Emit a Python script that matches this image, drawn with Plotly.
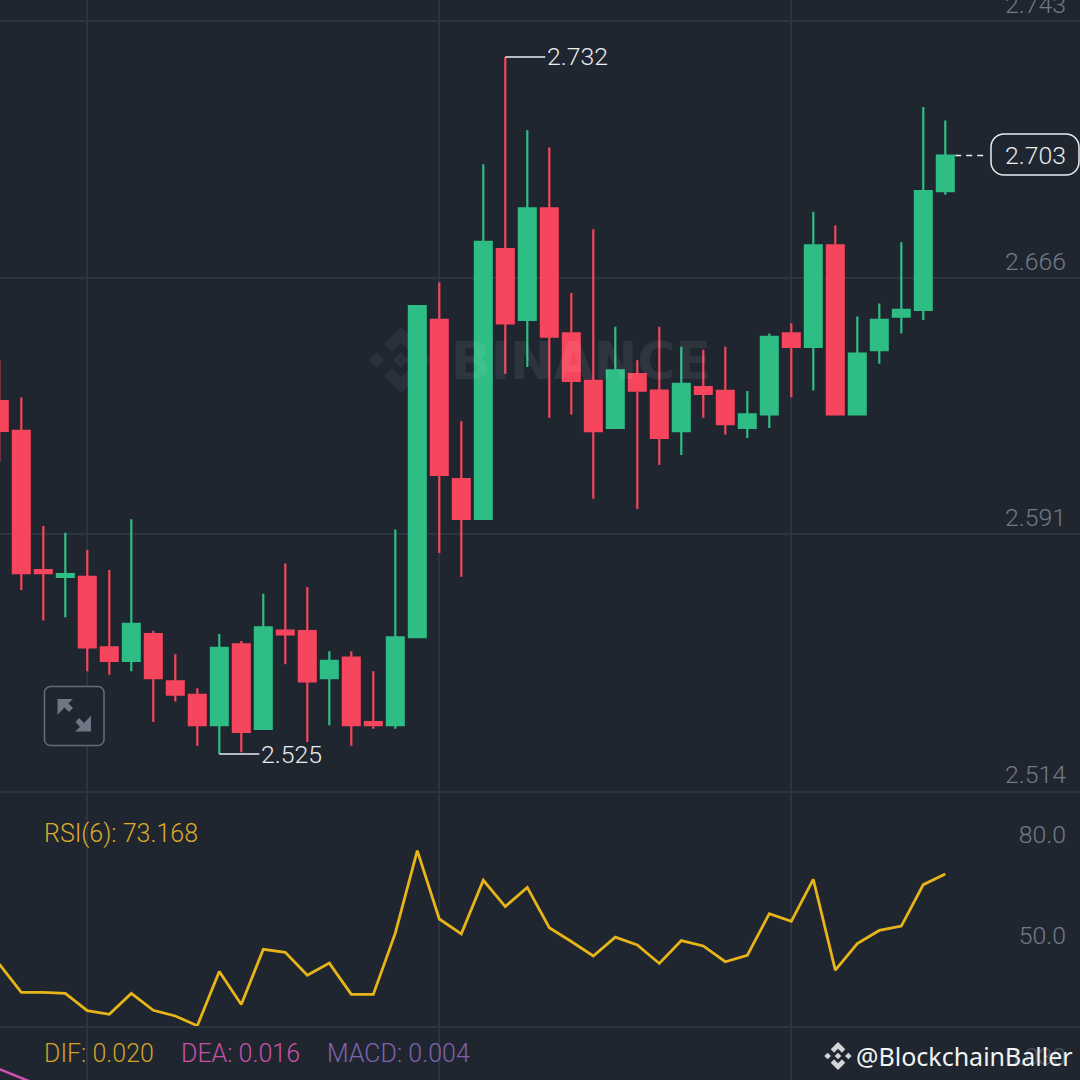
import plotly.graph_objects as go
from plotly.subplots import make_subplots

# candles (price pane)
opens = [2.6300, 2.6211, 2.5797, 2.5777, 2.5777, 2.5567, 2.5527, 2.5607, 2.5466, 2.5426, 2.5336,
         2.5576, 2.5325, 2.5617, 2.5616, 2.5476, 2.5537, 2.5345, 2.5336, 2.5598, 2.6541, 2.6068,
         2.5949, 2.6752, 2.6541, 2.6873, 2.6501, 2.6360, 2.6220, 2.6380, 2.6331, 2.6210, 2.6341,
         2.6330, 2.6220, 2.6260, 2.6501, 2.6461, 2.6763, 2.6260, 2.6451, 2.6551, 2.6571, 2.6924]
highs = [2.6422, 2.6310, 2.5928, 2.5908, 2.5857, 2.5797, 2.5948, 2.5617, 2.5547, 2.5446, 2.5607,
         2.5586, 2.5727, 2.5817, 2.5747, 2.5556, 2.5556, 2.5496, 2.5918, 2.6582, 2.6652, 2.6240,
         2.7004, 2.7323, 2.7105, 2.7054, 2.6621, 2.6811, 2.6521, 2.6421, 2.6521, 2.6461, 2.6452,
         2.6461, 2.6330, 2.6501, 2.6531, 2.6863, 2.6822, 2.6551, 2.6590, 2.6772, 2.7174, 2.7134]
lows = [2.6119, 2.5738, 2.5647, 2.5657, 2.5496, 2.5486, 2.5496, 2.5345, 2.5406, 2.5275, 2.5250,
        2.5255, 2.5325, 2.5517, 2.5286, 2.5336, 2.5275, 2.5325, 2.5325, 2.5598, 2.5848, 2.5777,
        2.5949, 2.6381, 2.6401, 2.6250, 2.6260, 2.6009, 2.6220, 2.5979, 2.6110, 2.6139, 2.6250,
        2.6200, 2.6190, 2.6220, 2.6311, 2.6331, 2.6260, 2.6260, 2.6411, 2.6501, 2.6541, 2.6913]
closes = [2.6211, 2.5788, 2.5788, 2.5785, 2.5567, 2.5527, 2.5637, 2.5476, 2.5427, 2.5336, 2.5566,
          2.5316, 2.5627, 2.5606, 2.5466, 2.5527, 2.5336, 2.5336, 2.5597, 2.6582, 2.6080, 2.5949,
          2.6773, 2.6531, 2.6873, 2.6491, 2.6360, 2.6210, 2.6391, 2.6331, 2.6190, 2.6351, 2.6321,
          2.6231, 2.6260, 2.6491, 2.6461, 2.6763, 2.6260, 2.6441, 2.6541, 2.6571, 2.6924, 2.7030]
bars = list(range(len(opens)))

rsi = [46.4, 38.0, 38.0, 37.7, 32.6, 31.5, 37.7, 32.7, 31.0, 28.1, 44.2, 34.4, 50.8, 49.9, 43.1,
       46.7, 37.4, 37.4, 55.6, 80.1, 59.8, 55.4, 71.3, 63.5, 69.2, 57.2, 53.1, 48.8, 54.4, 52.1,
       46.6, 53.4, 51.8, 47.1, 49.0, 61.4, 59.1, 71.6, 44.6, 52.5, 56.4, 57.7, 70.0, 73.168]
# only the start of the DEA line is inside the crop
dea = [0.0320, 0.0276, 0.0230]

price_ticks = [2.7430, 2.6666, 2.5904, 2.5140]
price_labels = ["2.743", "2.666", "2.591", "2.514"]
rsi_ticks = [80, 50]
rsi_labels = ["80.0", "50.0"]
macd_ticks = [0.030]
macd_labels = ["0.030"]
grid_bars = [4, 20, 36]

BG = "#1f2630"
GRID = "#2d3440"
GREEN = "#2ebd85"
RED = "#f6465d"
MUTED = "#737a87"
LIGHT = "#eaecef"
YELLOW = "#e8b518"
FONT = "Roboto"


def px(x):
    return x / 1080


def py(y):
    return 1 - y / 1080


def poly(points):
    return "M " + " L ".join(f"{px(x):.5f},{py(y):.5f}" for x, y in points) + " Z"


def rounded(x0, y0, x1, y1, r):
    c = 0.45 * r
    p = [f"M {px(x0 + r):.5f},{py(y0):.5f}", f"L {px(x1 - r):.5f},{py(y0):.5f}",
         f"C {px(x1 - c):.5f},{py(y0):.5f} {px(x1):.5f},{py(y0 + c):.5f} {px(x1):.5f},{py(y0 + r):.5f}",
         f"L {px(x1):.5f},{py(y1 - r):.5f}",
         f"C {px(x1):.5f},{py(y1 - c):.5f} {px(x1 - c):.5f},{py(y1):.5f} {px(x1 - r):.5f},{py(y1):.5f}",
         f"L {px(x0 + r):.5f},{py(y1):.5f}",
         f"C {px(x0 + c):.5f},{py(y1):.5f} {px(x0):.5f},{py(y1 - c):.5f} {px(x0):.5f},{py(y1 - r):.5f}",
         f"L {px(x0):.5f},{py(y0 + r):.5f}",
         f"C {px(x0):.5f},{py(y0 + c):.5f} {px(x0 + c):.5f},{py(y0):.5f} {px(x0 + r):.5f},{py(y0):.5f} Z"]
    return " ".join(p)


def logo(cx, cy, r, color, layer):
    # four chevrons/diamonds of the exchange mark
    parts = [
        [(0, -1), (0.52, -0.48), (0.28, -0.24), (0, -0.52), (-0.28, -0.24), (-0.52, -0.48)],
        [(0, 1), (0.52, 0.48), (0.28, 0.24), (0, 0.52), (-0.28, 0.24), (-0.52, 0.48)],
        [(-0.24, 0), (0, -0.24), (0.24, 0), (0, 0.24)],
        [(-0.98, 0), (-0.74, -0.24), (-0.5, 0), (-0.74, 0.24)],
        [(0.98, 0), (0.74, -0.24), (0.5, 0), (0.74, 0.24)],
    ]
    out = []
    for part in parts:
        pts = [(cx + a * r, cy + b * r) for a, b in part]
        out.append(dict(type="path", xref="paper", yref="paper", path=poly(pts),
                        fillcolor=color, line=dict(width=0), layer=layer))
    return out


fig = make_subplots(rows=3, cols=1, shared_xaxes=True, vertical_spacing=0,
                    row_heights=[791 / 1080, 235 / 1080, 54 / 1080])

fig.add_trace(go.Candlestick(
    x=bars, open=opens, high=highs, low=lows, close=closes, whiskerwidth=0,
    increasing=dict(line=dict(color=GREEN, width=2.2), fillcolor=GREEN),
    decreasing=dict(line=dict(color=RED, width=2.2), fillcolor=RED),
), row=1, col=1)
fig.add_trace(go.Scatter(x=bars, y=rsi, mode="lines", line=dict(color=YELLOW, width=2.8)), row=2, col=1)
fig.add_trace(go.Scatter(x=bars[:len(dea)], y=dea, mode="lines", line=dict(color="#d04fb0", width=2.6)),
              row=3, col=1)

fig.update_xaxes(range=[0.0318, 49.123], tickvals=grid_bars, showticklabels=False, ticks="", automargin=False,
                 showgrid=True, gridcolor=GRID, gridwidth=1.5, zeroline=False,
                 showline=True, linecolor=GRID, linewidth=2, rangeslider_visible=False)
fig.update_yaxes(side="right", ticks="", zeroline=False, showline=False, automargin=False,
                 ticklabelposition="inside", ticklabeloverflow="allow", ticklabelshift=-17,
                 ticklabelstandoff=11, tickfont=dict(family=FONT, size=24.8, weight=300, color=MUTED))
fig.update_yaxes(range=[2.51401, 2.74925], tickvals=price_ticks, ticktext=price_labels,
                 showgrid=True, gridcolor=GRID, gridwidth=1.5, row=1, col=1)
fig.update_yaxes(range=[28.02, 97.82], tickvals=rsi_ticks, ticktext=rsi_labels, showgrid=False, row=2, col=1)
fig.update_yaxes(range=[0.0265, 0.0535], tickvals=macd_ticks, ticktext=macd_labels, showgrid=False,
                 tickfont=dict(family=FONT, size=24.8, weight=300, color="#4c5360"), row=3, col=1)

shapes = []
# watermark behind the candles
shapes += logo(401, 360, 33, "#2b313c", "below")
# last price dashes and pill
shapes.append(dict(type="line", xref="x", yref="y", x0=43.45, x1=44.8, y0=closes[-1], y1=closes[-1],
                   line=dict(color=LIGHT, width=1.5, dash="6px,5px")))
shapes.append(dict(type="path", xref="paper", yref="paper", path=rounded(991, 134, 1079, 175, 13),
                   fillcolor=BG, line=dict(color=LIGHT, width=1.5)))
# expand button
shapes.append(dict(type="path", xref="paper", yref="paper", path=rounded(44.5, 686.5, 104, 745.5, 6),
                   fillcolor="rgba(31,38,48,0.85)", line=dict(color="#666d7a", width=1.5)))
arrow_color = "#6f7582"
shapes.append(dict(type="path", xref="paper", yref="paper",
                   path=poly([(57.5, 699), (73, 699), (68.5, 703.5), (73, 708), (69, 712), (64.5, 707.5), (57.5, 715)]),
                   fillcolor=arrow_color, line=dict(width=0)))
shapes.append(dict(type="path", xref="paper", yref="paper",
                   path=poly([(91, 731.5), (75, 731.5), (80, 727), (75.5, 722), (79, 718), (84, 723), (91, 715.5)]),
                   fillcolor=arrow_color, line=dict(width=0)))
shapes += logo(838, 1056, 14, "#d4d5d7", "above")


def label(text, x, y, color, size=25, family=FONT, weight=300):
    return dict(text=text, x=px(x), y=py(y), xref="paper", yref="paper", xanchor="left", yanchor="middle",
                showarrow=False, font=dict(family=family, size=size, weight=weight, color=color))


annotations = [
    dict(text="BINANCE", x=px(449), y=py(361), xref="paper", yref="paper", xanchor="left", yanchor="middle",
         showarrow=False, font=dict(family="DejaVu Sans", size=52, weight=700, color="rgba(255,255,255,0.07)")),
    # highest and lowest price tags, drawn from the data
    dict(text=f"{max(highs):.3f}", x=bars[highs.index(max(highs))], y=max(highs), xref="x", yref="y",
         ax=40, ay=0, xanchor="left", yanchor="middle", showarrow=True, arrowhead=0, arrowwidth=1.5,
         arrowcolor=LIGHT, standoff=0, font=dict(family=FONT, size=24.8, weight=300, color=LIGHT)),
    dict(text=f"{min(lows):.3f}", x=bars[lows.index(min(lows))], y=min(lows), xref="x", yref="y",
         ax=40, ay=0, xanchor="left", yanchor="middle", showarrow=True, arrowhead=0, arrowwidth=1.5,
         arrowcolor=LIGHT, standoff=0, font=dict(family=FONT, size=24.8, weight=300, color=LIGHT)),
    dict(text=f"{closes[-1]:.3f}", x=px(1035.5), y=closes[-1], xref="paper", yref="y", xanchor="center",
         yanchor="middle", showarrow=False, font=dict(family=FONT, size=24.8, weight=300, color=LIGHT)),
    label(f"RSI(6): {rsi[-1]:.3f}", 42, 833, "#dcab28"),
    label("DIF: 0.020", 42, 1053, "#d0a226"),
    label("DEA: 0.016", 179, 1053, "#c852a5"),
    label("MACD: 0.004", 325, 1053, "#7f62ae"),
    label("@BlockchainBaller", 854, 1056, "#f2f3f4", size=25, family="Noto Sans", weight=400),
]

fig.update_layout(width=1080, height=1080, margin=dict(l=0, r=0, t=0, b=0), autosize=False,
                  paper_bgcolor=BG, plot_bgcolor=BG, showlegend=False, boxgap=0.235, boxgroupgap=0,
                  shapes=shapes, annotations=annotations)

fig.write_html("out.html", config={"displayModeBar": False},
               post_script="document.body.style.margin='0';document.body.style.overflow='hidden';")
